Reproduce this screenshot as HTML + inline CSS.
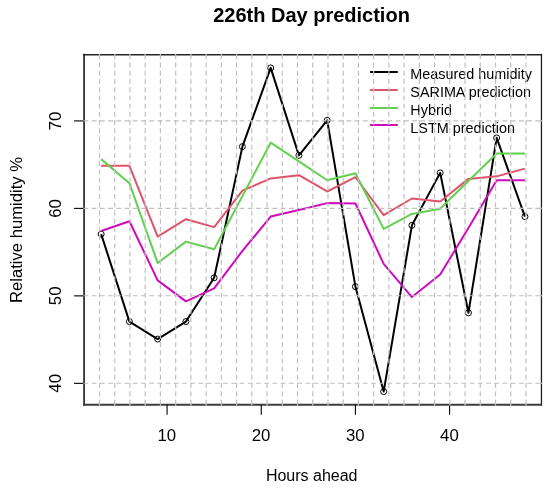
<!DOCTYPE html>
<html><head><meta charset="utf-8"><title>226th Day prediction</title>
<style>html,body{margin:0;padding:0;background:#fff;width:550px;height:490px;overflow:hidden}svg{display:block}</style>
</head><body>
<svg width="550" height="490" viewBox="0 0 550 490">
<rect x="0" y="0" width="550" height="490" fill="#fff"/>
<polyline points="101.16,234.09 129.41,321.57 157.66,339.06 185.91,321.57 214.17,277.83 242.42,146.61 270.67,67.88 298.92,155.36 327.17,120.37 355.42,286.58 383.67,391.55 411.92,225.34 440.17,172.85 468.43,312.82 496.68,137.86 524.93,216.59" fill="none" stroke="#000000" stroke-width="2" stroke-linejoin="round" stroke-linecap="butt"/>
<circle cx="101.16" cy="234.09" r="3" fill="none" stroke="#000" stroke-width="1"/>
<circle cx="129.41" cy="321.57" r="3" fill="none" stroke="#000" stroke-width="1"/>
<circle cx="157.66" cy="339.06" r="3" fill="none" stroke="#000" stroke-width="1"/>
<circle cx="185.91" cy="321.57" r="3" fill="none" stroke="#000" stroke-width="1"/>
<circle cx="214.17" cy="277.83" r="3" fill="none" stroke="#000" stroke-width="1"/>
<circle cx="242.42" cy="146.61" r="3" fill="none" stroke="#000" stroke-width="1"/>
<circle cx="270.67" cy="67.88" r="3" fill="none" stroke="#000" stroke-width="1"/>
<circle cx="298.92" cy="155.36" r="3" fill="none" stroke="#000" stroke-width="1"/>
<circle cx="327.17" cy="120.37" r="3" fill="none" stroke="#000" stroke-width="1"/>
<circle cx="355.42" cy="286.58" r="3" fill="none" stroke="#000" stroke-width="1"/>
<circle cx="383.67" cy="391.55" r="3" fill="none" stroke="#000" stroke-width="1"/>
<circle cx="411.92" cy="225.34" r="3" fill="none" stroke="#000" stroke-width="1"/>
<circle cx="440.17" cy="172.85" r="3" fill="none" stroke="#000" stroke-width="1"/>
<circle cx="468.43" cy="312.82" r="3" fill="none" stroke="#000" stroke-width="1"/>
<circle cx="496.68" cy="137.86" r="3" fill="none" stroke="#000" stroke-width="1"/>
<circle cx="524.93" cy="216.59" r="3" fill="none" stroke="#000" stroke-width="1"/>
<polyline points="101.16,165.77 129.41,165.77 157.66,236.54 185.91,219.22 214.17,227.09 242.42,190.70 270.67,178.45 298.92,175.22 327.17,191.49 355.42,177.23 383.67,215.11 411.92,198.49 440.17,201.46 468.43,178.89 496.68,176.35 524.93,168.66" fill="none" stroke="#DF536B" stroke-width="2" stroke-linejoin="round" stroke-linecap="butt"/>
<polyline points="101.16,159.12 129.41,183.18 157.66,263.04 185.91,241.61 214.17,249.22 242.42,196.12 270.67,142.67 298.92,161.31 327.17,180.29 355.42,173.20 383.67,228.84 411.92,213.97 440.17,208.72 468.43,180.99 496.68,153.43 524.93,153.43" fill="none" stroke="#61D04F" stroke-width="2" stroke-linejoin="round" stroke-linecap="butt"/>
<polyline points="101.16,231.03 129.41,221.23 157.66,280.36 185.91,301.36 214.17,288.32 242.42,250.88 270.67,216.59 298.92,210.03 327.17,203.12 355.42,203.47 383.67,263.83 411.92,297.07 440.17,274.59 468.43,227.97 496.68,180.29 524.93,180.29" fill="none" stroke="#CD0BBC" stroke-width="2" stroke-linejoin="round" stroke-linecap="butt"/>
<line x1="84.07" y1="53.85" x2="84.07" y2="405.8" stroke="#3c3c3c" stroke-width="1.9"/>
<line x1="541.45" y1="53.85" x2="541.45" y2="405.8" stroke="#202020" stroke-width="1.3"/>
<line x1="83.16999999999999" y1="54.75" x2="542.1" y2="54.75" stroke="#262626" stroke-width="1.7"/>
<line x1="83.16999999999999" y1="404.8" x2="542.1" y2="404.8" stroke="#3c3c3c" stroke-width="1.9"/>
<line x1="167.08" y1="404.80" x2="167.08" y2="414.80" stroke="#000" stroke-width="1.1"/>
<text x="166.88" y="440.6" text-anchor="middle" font-size="16.8" font-family="Liberation Sans, Arial, sans-serif">10</text>
<line x1="261.25" y1="404.80" x2="261.25" y2="414.80" stroke="#000" stroke-width="1.1"/>
<text x="261.05" y="440.6" text-anchor="middle" font-size="16.8" font-family="Liberation Sans, Arial, sans-serif">20</text>
<line x1="355.42" y1="404.80" x2="355.42" y2="414.80" stroke="#000" stroke-width="1.1"/>
<text x="355.22" y="440.6" text-anchor="middle" font-size="16.8" font-family="Liberation Sans, Arial, sans-serif">30</text>
<line x1="449.59" y1="404.80" x2="449.59" y2="414.80" stroke="#000" stroke-width="1.1"/>
<text x="449.39" y="440.6" text-anchor="middle" font-size="16.8" font-family="Liberation Sans, Arial, sans-serif">40</text>
<line x1="84.07" y1="383.35" x2="74.07" y2="383.35" stroke="#000" stroke-width="1.1"/>
<text transform="translate(61.0,383.35) rotate(-90)" x="0" y="0" text-anchor="middle" font-size="16.8" font-family="Liberation Sans, Arial, sans-serif">40</text>
<line x1="84.07" y1="295.87" x2="74.07" y2="295.87" stroke="#000" stroke-width="1.1"/>
<text transform="translate(61.0,295.87) rotate(-90)" x="0" y="0" text-anchor="middle" font-size="16.8" font-family="Liberation Sans, Arial, sans-serif">50</text>
<line x1="84.07" y1="208.40" x2="74.07" y2="208.40" stroke="#000" stroke-width="1.1"/>
<text transform="translate(61.0,208.40) rotate(-90)" x="0" y="0" text-anchor="middle" font-size="16.8" font-family="Liberation Sans, Arial, sans-serif">60</text>
<line x1="84.07" y1="120.92" x2="74.07" y2="120.92" stroke="#000" stroke-width="1.1"/>
<text transform="translate(61.0,120.92) rotate(-90)" x="0" y="0" text-anchor="middle" font-size="16.8" font-family="Liberation Sans, Arial, sans-serif">70</text>
<text x="311.7" y="480.5" text-anchor="middle" font-size="16" font-family="Liberation Sans, Arial, sans-serif">Hours ahead</text>
<text transform="translate(22.3,230.0) rotate(-90)" x="0" y="0" text-anchor="middle" font-size="16.65" font-family="Liberation Sans, Arial, sans-serif">Relative humidity %</text>
<text x="311.5" y="21.8" text-anchor="middle" font-size="20" font-weight="bold" font-family="Liberation Sans, Arial, sans-serif">226th Day prediction</text>
<line x1="370.1" y1="72" x2="397.8" y2="72" stroke="#000000" stroke-width="2"/>
<text x="410.3" y="78.60" font-size="14.4" font-family="Liberation Sans, Arial, sans-serif">Measured humidity</text>
<line x1="370.1" y1="90" x2="397.8" y2="90" stroke="#DF536B" stroke-width="2"/>
<text x="410.3" y="96.60" font-size="14.4" font-family="Liberation Sans, Arial, sans-serif">SARIMA prediction</text>
<line x1="370.1" y1="108" x2="397.8" y2="108" stroke="#61D04F" stroke-width="2"/>
<text x="410.3" y="114.60" font-size="14.4" font-family="Liberation Sans, Arial, sans-serif">Hybrid</text>
<line x1="370.1" y1="125" x2="397.8" y2="125" stroke="#CD0BBC" stroke-width="2"/>
<text x="410.3" y="132.60" font-size="14.4" font-family="Liberation Sans, Arial, sans-serif">LSTM prediction</text>
<line x1="99.50" y1="404.4" x2="99.50" y2="54.93" stroke="#C0C0C0" stroke-width="1.2" stroke-dasharray="4.9 3.317"/>
<line x1="99.50" y1="53.9" x2="99.50" y2="55.7" stroke="#C0C0C0" stroke-width="1.2"/>
<line x1="99.50" y1="403.9" x2="99.50" y2="405.7" stroke="#C0C0C0" stroke-width="1.2"/>
<line x1="114.73" y1="404.4" x2="114.73" y2="54.93" stroke="#C0C0C0" stroke-width="1.2" stroke-dasharray="4.9 3.317"/>
<line x1="114.73" y1="53.9" x2="114.73" y2="55.7" stroke="#C0C0C0" stroke-width="1.2"/>
<line x1="114.73" y1="403.9" x2="114.73" y2="405.7" stroke="#C0C0C0" stroke-width="1.2"/>
<line x1="129.96" y1="404.4" x2="129.96" y2="54.93" stroke="#C0C0C0" stroke-width="1.2" stroke-dasharray="4.9 3.317"/>
<line x1="129.96" y1="53.9" x2="129.96" y2="55.7" stroke="#C0C0C0" stroke-width="1.2"/>
<line x1="129.96" y1="403.9" x2="129.96" y2="405.7" stroke="#C0C0C0" stroke-width="1.2"/>
<line x1="145.19" y1="404.4" x2="145.19" y2="54.93" stroke="#C0C0C0" stroke-width="1.2" stroke-dasharray="4.9 3.317"/>
<line x1="145.19" y1="53.9" x2="145.19" y2="55.7" stroke="#C0C0C0" stroke-width="1.2"/>
<line x1="145.19" y1="403.9" x2="145.19" y2="405.7" stroke="#C0C0C0" stroke-width="1.2"/>
<line x1="160.43" y1="404.4" x2="160.43" y2="54.93" stroke="#C0C0C0" stroke-width="1.2" stroke-dasharray="4.9 3.317"/>
<line x1="160.43" y1="53.9" x2="160.43" y2="55.7" stroke="#C0C0C0" stroke-width="1.2"/>
<line x1="160.43" y1="403.9" x2="160.43" y2="405.7" stroke="#C0C0C0" stroke-width="1.2"/>
<line x1="175.66" y1="404.4" x2="175.66" y2="54.93" stroke="#C0C0C0" stroke-width="1.2" stroke-dasharray="4.9 3.317"/>
<line x1="175.66" y1="53.9" x2="175.66" y2="55.7" stroke="#C0C0C0" stroke-width="1.2"/>
<line x1="175.66" y1="403.9" x2="175.66" y2="405.7" stroke="#C0C0C0" stroke-width="1.2"/>
<line x1="190.89" y1="404.4" x2="190.89" y2="54.93" stroke="#C0C0C0" stroke-width="1.2" stroke-dasharray="4.9 3.317"/>
<line x1="190.89" y1="53.9" x2="190.89" y2="55.7" stroke="#C0C0C0" stroke-width="1.2"/>
<line x1="190.89" y1="403.9" x2="190.89" y2="405.7" stroke="#C0C0C0" stroke-width="1.2"/>
<line x1="206.12" y1="404.4" x2="206.12" y2="54.93" stroke="#C0C0C0" stroke-width="1.2" stroke-dasharray="4.9 3.317"/>
<line x1="206.12" y1="53.9" x2="206.12" y2="55.7" stroke="#C0C0C0" stroke-width="1.2"/>
<line x1="206.12" y1="403.9" x2="206.12" y2="405.7" stroke="#C0C0C0" stroke-width="1.2"/>
<line x1="221.35" y1="404.4" x2="221.35" y2="54.93" stroke="#C0C0C0" stroke-width="1.2" stroke-dasharray="4.9 3.317"/>
<line x1="221.35" y1="53.9" x2="221.35" y2="55.7" stroke="#C0C0C0" stroke-width="1.2"/>
<line x1="221.35" y1="403.9" x2="221.35" y2="405.7" stroke="#C0C0C0" stroke-width="1.2"/>
<line x1="236.58" y1="404.4" x2="236.58" y2="54.93" stroke="#C0C0C0" stroke-width="1.2" stroke-dasharray="4.9 3.317"/>
<line x1="236.58" y1="53.9" x2="236.58" y2="55.7" stroke="#C0C0C0" stroke-width="1.2"/>
<line x1="236.58" y1="403.9" x2="236.58" y2="405.7" stroke="#C0C0C0" stroke-width="1.2"/>
<line x1="251.81" y1="404.4" x2="251.81" y2="54.93" stroke="#C0C0C0" stroke-width="1.2" stroke-dasharray="4.9 3.317"/>
<line x1="251.81" y1="53.9" x2="251.81" y2="55.7" stroke="#C0C0C0" stroke-width="1.2"/>
<line x1="251.81" y1="403.9" x2="251.81" y2="405.7" stroke="#C0C0C0" stroke-width="1.2"/>
<line x1="267.04" y1="404.4" x2="267.04" y2="54.93" stroke="#C0C0C0" stroke-width="1.2" stroke-dasharray="4.9 3.317"/>
<line x1="267.04" y1="53.9" x2="267.04" y2="55.7" stroke="#C0C0C0" stroke-width="1.2"/>
<line x1="267.04" y1="403.9" x2="267.04" y2="405.7" stroke="#C0C0C0" stroke-width="1.2"/>
<line x1="282.27" y1="404.4" x2="282.27" y2="54.93" stroke="#C0C0C0" stroke-width="1.2" stroke-dasharray="4.9 3.317"/>
<line x1="282.27" y1="53.9" x2="282.27" y2="55.7" stroke="#C0C0C0" stroke-width="1.2"/>
<line x1="282.27" y1="403.9" x2="282.27" y2="405.7" stroke="#C0C0C0" stroke-width="1.2"/>
<line x1="297.50" y1="404.4" x2="297.50" y2="54.93" stroke="#C0C0C0" stroke-width="1.2" stroke-dasharray="4.9 3.317"/>
<line x1="297.50" y1="53.9" x2="297.50" y2="55.7" stroke="#C0C0C0" stroke-width="1.2"/>
<line x1="297.50" y1="403.9" x2="297.50" y2="405.7" stroke="#C0C0C0" stroke-width="1.2"/>
<line x1="312.74" y1="404.4" x2="312.74" y2="54.93" stroke="#C0C0C0" stroke-width="1.2" stroke-dasharray="4.9 3.317"/>
<line x1="312.74" y1="53.9" x2="312.74" y2="55.7" stroke="#C0C0C0" stroke-width="1.2"/>
<line x1="312.74" y1="403.9" x2="312.74" y2="405.7" stroke="#C0C0C0" stroke-width="1.2"/>
<line x1="327.97" y1="404.4" x2="327.97" y2="54.93" stroke="#C0C0C0" stroke-width="1.2" stroke-dasharray="4.9 3.317"/>
<line x1="327.97" y1="53.9" x2="327.97" y2="55.7" stroke="#C0C0C0" stroke-width="1.2"/>
<line x1="327.97" y1="403.9" x2="327.97" y2="405.7" stroke="#C0C0C0" stroke-width="1.2"/>
<line x1="343.20" y1="404.4" x2="343.20" y2="54.93" stroke="#C0C0C0" stroke-width="1.2" stroke-dasharray="4.9 3.317"/>
<line x1="343.20" y1="53.9" x2="343.20" y2="55.7" stroke="#C0C0C0" stroke-width="1.2"/>
<line x1="343.20" y1="403.9" x2="343.20" y2="405.7" stroke="#C0C0C0" stroke-width="1.2"/>
<line x1="358.43" y1="404.4" x2="358.43" y2="54.93" stroke="#C0C0C0" stroke-width="1.2" stroke-dasharray="4.9 3.317"/>
<line x1="358.43" y1="53.9" x2="358.43" y2="55.7" stroke="#C0C0C0" stroke-width="1.2"/>
<line x1="358.43" y1="403.9" x2="358.43" y2="405.7" stroke="#C0C0C0" stroke-width="1.2"/>
<line x1="373.66" y1="404.4" x2="373.66" y2="54.93" stroke="#C0C0C0" stroke-width="1.2" stroke-dasharray="4.9 3.317"/>
<line x1="373.66" y1="53.9" x2="373.66" y2="55.7" stroke="#C0C0C0" stroke-width="1.2"/>
<line x1="373.66" y1="403.9" x2="373.66" y2="405.7" stroke="#C0C0C0" stroke-width="1.2"/>
<line x1="388.89" y1="404.4" x2="388.89" y2="54.93" stroke="#C0C0C0" stroke-width="1.2" stroke-dasharray="4.9 3.317"/>
<line x1="388.89" y1="53.9" x2="388.89" y2="55.7" stroke="#C0C0C0" stroke-width="1.2"/>
<line x1="388.89" y1="403.9" x2="388.89" y2="405.7" stroke="#C0C0C0" stroke-width="1.2"/>
<line x1="404.12" y1="404.4" x2="404.12" y2="54.93" stroke="#C0C0C0" stroke-width="1.2" stroke-dasharray="4.9 3.317"/>
<line x1="404.12" y1="53.9" x2="404.12" y2="55.7" stroke="#C0C0C0" stroke-width="1.2"/>
<line x1="404.12" y1="403.9" x2="404.12" y2="405.7" stroke="#C0C0C0" stroke-width="1.2"/>
<line x1="419.35" y1="404.4" x2="419.35" y2="54.93" stroke="#C0C0C0" stroke-width="1.2" stroke-dasharray="4.9 3.317"/>
<line x1="419.35" y1="53.9" x2="419.35" y2="55.7" stroke="#C0C0C0" stroke-width="1.2"/>
<line x1="419.35" y1="403.9" x2="419.35" y2="405.7" stroke="#C0C0C0" stroke-width="1.2"/>
<line x1="434.58" y1="404.4" x2="434.58" y2="54.93" stroke="#C0C0C0" stroke-width="1.2" stroke-dasharray="4.9 3.317"/>
<line x1="434.58" y1="53.9" x2="434.58" y2="55.7" stroke="#C0C0C0" stroke-width="1.2"/>
<line x1="434.58" y1="403.9" x2="434.58" y2="405.7" stroke="#C0C0C0" stroke-width="1.2"/>
<line x1="449.81" y1="404.4" x2="449.81" y2="54.93" stroke="#C0C0C0" stroke-width="1.2" stroke-dasharray="4.9 3.317"/>
<line x1="449.81" y1="53.9" x2="449.81" y2="55.7" stroke="#C0C0C0" stroke-width="1.2"/>
<line x1="449.81" y1="403.9" x2="449.81" y2="405.7" stroke="#C0C0C0" stroke-width="1.2"/>
<line x1="465.05" y1="404.4" x2="465.05" y2="54.93" stroke="#C0C0C0" stroke-width="1.2" stroke-dasharray="4.9 3.317"/>
<line x1="465.05" y1="53.9" x2="465.05" y2="55.7" stroke="#C0C0C0" stroke-width="1.2"/>
<line x1="465.05" y1="403.9" x2="465.05" y2="405.7" stroke="#C0C0C0" stroke-width="1.2"/>
<line x1="480.28" y1="404.4" x2="480.28" y2="54.93" stroke="#C0C0C0" stroke-width="1.2" stroke-dasharray="4.9 3.317"/>
<line x1="480.28" y1="53.9" x2="480.28" y2="55.7" stroke="#C0C0C0" stroke-width="1.2"/>
<line x1="480.28" y1="403.9" x2="480.28" y2="405.7" stroke="#C0C0C0" stroke-width="1.2"/>
<line x1="495.51" y1="404.4" x2="495.51" y2="54.93" stroke="#C0C0C0" stroke-width="1.2" stroke-dasharray="4.9 3.317"/>
<line x1="495.51" y1="53.9" x2="495.51" y2="55.7" stroke="#C0C0C0" stroke-width="1.2"/>
<line x1="495.51" y1="403.9" x2="495.51" y2="405.7" stroke="#C0C0C0" stroke-width="1.2"/>
<line x1="510.74" y1="404.4" x2="510.74" y2="54.93" stroke="#C0C0C0" stroke-width="1.2" stroke-dasharray="4.9 3.317"/>
<line x1="510.74" y1="53.9" x2="510.74" y2="55.7" stroke="#C0C0C0" stroke-width="1.2"/>
<line x1="510.74" y1="403.9" x2="510.74" y2="405.7" stroke="#C0C0C0" stroke-width="1.2"/>
<line x1="525.97" y1="404.4" x2="525.97" y2="54.93" stroke="#C0C0C0" stroke-width="1.2" stroke-dasharray="4.9 3.317"/>
<line x1="525.97" y1="53.9" x2="525.97" y2="55.7" stroke="#C0C0C0" stroke-width="1.2"/>
<line x1="525.97" y1="403.9" x2="525.97" y2="405.7" stroke="#C0C0C0" stroke-width="1.2"/>
<line x1="540.3" y1="383.25" x2="542.1" y2="383.25" stroke="#C0C0C0" stroke-width="1.2"/>
<line x1="83.4" y1="383.25" x2="541.2" y2="383.25" stroke="#C0C0C0" stroke-width="1.2" stroke-dasharray="4.9 3.317"/>
<line x1="540.3" y1="295.77" x2="542.1" y2="295.77" stroke="#C0C0C0" stroke-width="1.2"/>
<line x1="83.4" y1="295.77" x2="541.2" y2="295.77" stroke="#C0C0C0" stroke-width="1.2" stroke-dasharray="4.9 3.317"/>
<line x1="540.3" y1="208.30" x2="542.1" y2="208.30" stroke="#C0C0C0" stroke-width="1.2"/>
<line x1="83.4" y1="208.30" x2="541.2" y2="208.30" stroke="#C0C0C0" stroke-width="1.2" stroke-dasharray="4.9 3.317"/>
<line x1="540.3" y1="120.82" x2="542.1" y2="120.82" stroke="#C0C0C0" stroke-width="1.2"/>
<line x1="83.4" y1="120.82" x2="541.2" y2="120.82" stroke="#C0C0C0" stroke-width="1.2" stroke-dasharray="4.9 3.317"/>
</svg>
</body></html>
